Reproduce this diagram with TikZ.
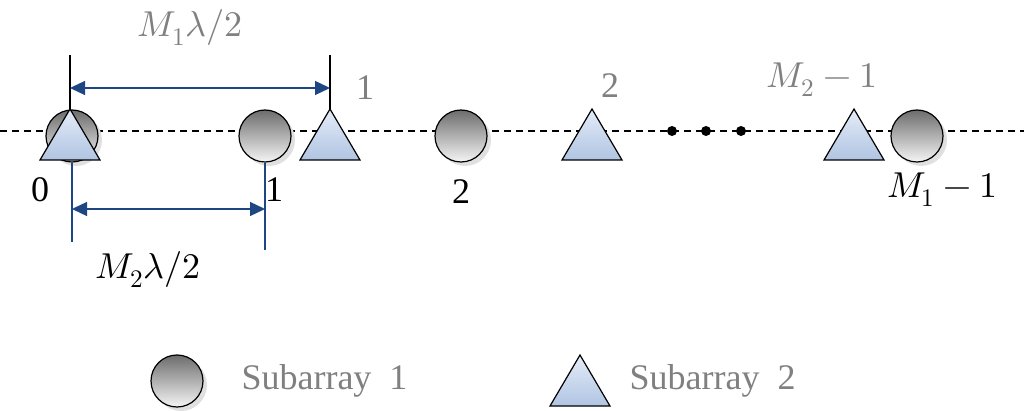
\documentclass[tikz,border=0pt]{standalone}
\usepackage{fontspec}
\setmainfont{Liberation Serif}
\usepackage{unicode-math}
\setmathfont{Latin Modern Math}
\usetikzlibrary{arrows.meta}
\definecolor{tritop}{RGB}{228,236,248}
\definecolor{tribot}{RGB}{176,196,226}
\definecolor{dimblue}{RGB}{30,70,130}
\begin{document}
\begin{tikzpicture}[x=1pt,y=-1pt,
  elem/.style={circle,draw=black,line width=1.2pt,minimum size=52pt,inner sep=0pt,top color=gray!85!black,bottom color=white!92!gray},
  shad/.style={circle,fill=black!12,minimum size=52pt,inner sep=0pt},
  tri/.style={draw=black,line width=1.2pt,top color=tritop,bottom color=tribot},
  dim/.style={draw=dimblue,line width=1.3pt,{Triangle[length=15pt,width=14pt]}-{Triangle[length=15pt,width=14pt]}},
  ext/.style={draw=dimblue,line width=1.3pt},
  gl/.style={text=gray,font=\fontsize{36}{36}\selectfont},
  bl/.style={text=black,font=\fontsize{36}{36}\selectfont}]
\useasboundingbox (0,0) rectangle (1024,411);
\draw[line width=1.2pt,dash pattern=on 7pt off 5pt] (0,131) -- (1024,131);
% circles
\foreach \x in {72,265,461,917}{
  \node[shad] at (\x+4,140) {};
}
\foreach \n/\x in {c0/72,c1/265,c2/461,c3/917}{
  \node[elem] (\n) at (\x,136) {};
}
% triangles
\newcommand\mytri[2]{\path[tri] (#1,109) -- (#1+30,160) -- (#1-30,160) -- cycle; \coordinate (#2) at (#1,109);}
\mytri{70}{t0}\mytri{330}{t1}\mytri{592}{t2}\mytri{854}{t3}
\foreach \x in {672,706,741}\fill (\x,131) circle (5pt);
% dimension top
\coordinate (a0) at (70,55); \coordinate (a1) at (330,55);
\draw[line width=1.2pt] (a0) -- (t0); \draw[line width=1.2pt] (a1) -- (t1);
\draw[dim] (70,88) -- (330,88);
% dimension bottom
\coordinate (b0) at (72,242); \coordinate (b1) at (265,250);
\draw[ext] (c0.south) -- (b0); \draw[ext] (c1.south) -- (b1);
\draw[dim] (72,209) -- (265,209);
% labels
\node[gl] (l1) at (190,28) {$M_1\lambda/2$};
\node[bl] (l2) at (148,270) {$M_2\lambda/2$};
\node[gl] at (365,88) {1};
\node[gl] at (610,86) {2};
\node[gl] at (822,80) {$M_2-1$};
\node[bl] at (40,190) {0};
\node[bl] at (274,190) {1};
\node[bl] at (461,192) {2};
\node[bl] at (942,190) {$M_1-1$};
% legend
\node[shad] at (181,385) {};
\node[elem] (lc) at (177,381) {};
\node[gl,anchor=west] at (238,381) {Subarray\ \ 1};
\path[tri] (580,355) -- (610,406) -- (550,406) -- cycle;
\node[gl,anchor=west] (lt) at (626,381) {Subarray\ \ 2};
\end{tikzpicture}
\end{document}
